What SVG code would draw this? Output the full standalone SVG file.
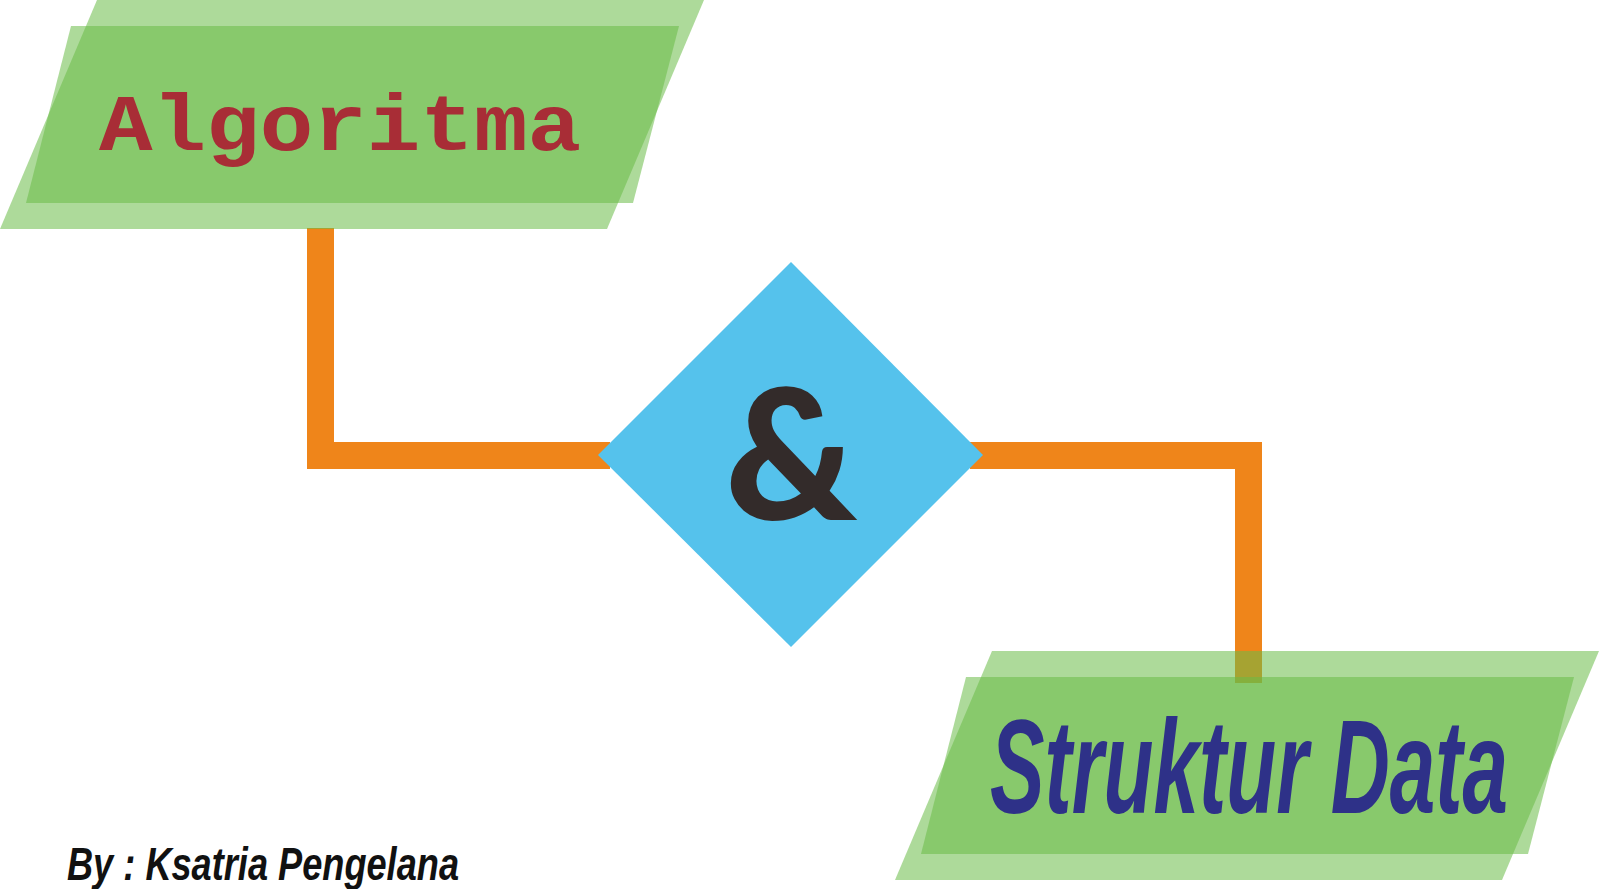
<svg xmlns="http://www.w3.org/2000/svg" width="1600" height="889" viewBox="0 0 1600 889">
<style>
.para{fill:#69BB47;fill-opacity:0.55}
.conn{fill:none;stroke:#EF851A;stroke-width:27;stroke-linejoin:miter;stroke-linecap:butt}
.t1{font-family:"Liberation Mono","Courier New",monospace;font-weight:bold;font-size:80px;fill:#A82D36}
.t2{font-family:"Liberation Sans",Arial,sans-serif;font-weight:bold;font-style:italic;font-size:134px;fill:#2E3188}
.amp{font-family:Lato,"Open Sans",sans-serif;font-weight:900;font-size:182px;fill:#332B2A}
.by{font-family:"Liberation Sans",Arial,sans-serif;font-weight:bold;font-style:italic;font-size:47px;fill:#111}
</style>
<rect width="1600" height="889" fill="#fff"/>
<g id="connectors">
<path class="conn" d="M320.5,228 V455.5 H610"/>
<path class="conn" d="M970,455.5 H1248.5 V683"/>
</g>
<g id="algoritma">
<polygon class="para" points="97,0 704,0 607,229 0,229"/>
<polygon class="para" points="71,26 679,26 633,203 26,203"/>
<text class="t1" x="340" y="150" text-anchor="middle" textLength="482" lengthAdjust="spacingAndGlyphs">Algoritma</text>
</g>
<g id="and">
<polygon points="791,262 983,455 791,647 598,455" fill="#55C2EC"/>
<text class="amp" x="791" y="520" text-anchor="middle">&amp;</text>
</g>
<g id="struktur-data">
<polygon class="para" points="992,651 1599,651 1502,880 895,880"/>
<polygon class="para" points="966,677 1574,677 1528,854 921,854"/>
<text class="t2" x="990" y="813" textLength="518" lengthAdjust="spacingAndGlyphs">Struktur Data</text>
</g>
<g id="credit">
<text class="by" x="67" y="880" textLength="392" lengthAdjust="spacingAndGlyphs">By : Ksatria Pengelana</text>
</g>
</svg>
